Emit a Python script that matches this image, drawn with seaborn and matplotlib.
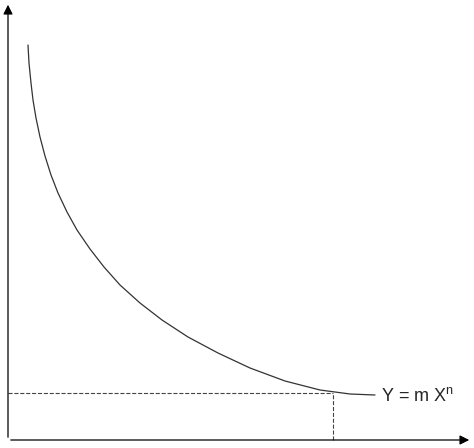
import matplotlib
matplotlib.use('Agg')
import matplotlib.pyplot as plt
import seaborn as sns

# curve points (x right, y up, in pixel units)
curve_x = [28, 29, 31, 33, 36, 40, 45, 51, 58, 67, 77, 90, 104, 120, 140, 162, 188, 218, 250, 285, 320, 350, 375]
curve_y = [403, 385, 365, 348, 330, 311, 292, 273, 255, 236, 218, 199, 181, 163, 145, 128, 111, 95, 80, 67, 58, 54, 53]
ref_x = 333
ref_y = 55
label = 'Y = m X$^{\\mathregular{n}}$'

sns.set_style('white')
fig = plt.figure(figsize=(4.74, 4.48), dpi=100)
ax = fig.add_axes([0, 0, 1, 1])
ax.set_xlim(0, 474)
ax.set_ylim(0, 448)
ax.axis('off')

sns.lineplot(x=curve_x, y=curve_y, sort=False, color='#333333', lw=0.9, ax=ax)

# axes with arrow heads
ax.annotate('', xy=(8, 446), xytext=(8, 8),
            arrowprops=dict(arrowstyle='-|>', color='black', lw=0.9, mutation_scale=14))
ax.annotate('', xy=(472, 8), xytext=(8, 8),
            arrowprops=dict(arrowstyle='-|>', color='black', lw=0.9, mutation_scale=14))

# dashed guides
ax.plot([8, ref_x], [ref_y, ref_y], ls='--', color='#444444', lw=0.8)
ax.plot([ref_x, ref_x], [8, ref_y], ls='--', color='#444444', lw=0.8)

ax.text(381, 52, label, fontsize=13, va='center', ha='left', family='Liberation Sans')

fig.savefig('out.png', dpi=100)
